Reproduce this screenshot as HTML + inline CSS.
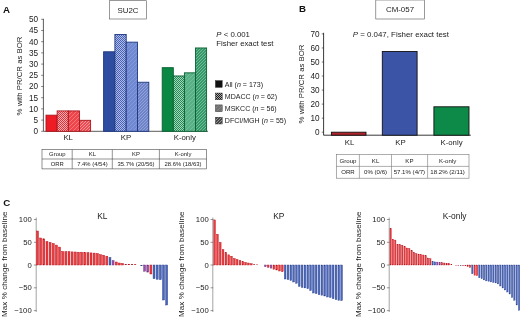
<!DOCTYPE html>
<html lang="en"><head><meta charset="utf-8"><title>Figure</title>
<style>
html,body{margin:0;padding:0;background:#fff;}
body{width:520px;height:319px;overflow:hidden;}
svg{display:block;}
text{font-family:"Liberation Sans",Arial,Helvetica,sans-serif;fill:#222;}
.b{font-weight:bold;fill:#111;}
.i{font-style:italic;}
</style></head><body>
<svg width="520" height="319" viewBox="0 0 520 319">
<defs>
<pattern id="r2" width="2" height="2" patternUnits="userSpaceOnUse"><rect width="2" height="2" fill="#f8b4b4"/><rect width="1" height="1" fill="#e62e38"/><rect x="1" y="1" width="1" height="1" fill="#e62e38"/></pattern><pattern id="r3" width="4" height="4" patternUnits="userSpaceOnUse"><rect width="4" height="4" fill="#ee444c"/><path d="M-1,1 L1,-1 M0,4 L4,0 M3,5 L5,3" stroke="#f88c8c" stroke-width="0.7"/></pattern><pattern id="r4" width="3" height="3" patternUnits="userSpaceOnUse"><rect width="3" height="3" fill="#ee4c54"/><path d="M-1,1 L1,-1 M0,3 L3,0 M2,4 L4,2" stroke="#f8a8a8" stroke-width="0.8"/></pattern><pattern id="b2" width="2" height="2" patternUnits="userSpaceOnUse"><rect width="2" height="2" fill="#aebcea"/><rect width="1" height="1" fill="#4a62b4"/><rect x="1" y="1" width="1" height="1" fill="#4a62b4"/></pattern><pattern id="b3" width="4" height="4" patternUnits="userSpaceOnUse"><rect width="4" height="4" fill="#7189d2"/><path d="M-1,1 L1,-1 M0,4 L4,0 M3,5 L5,3" stroke="#8aa0de" stroke-width="0.7"/></pattern><pattern id="b4" width="3" height="3" patternUnits="userSpaceOnUse"><rect width="3" height="3" fill="#6e83c8"/><path d="M-1,1 L1,-1 M0,3 L3,0 M2,4 L4,2" stroke="#9aaae0" stroke-width="0.8"/></pattern><pattern id="g2" width="2" height="2" patternUnits="userSpaceOnUse"><rect width="2" height="2" fill="#a8d6be"/><rect width="1" height="1" fill="#1f8a52"/><rect x="1" y="1" width="1" height="1" fill="#1f8a52"/></pattern><pattern id="g3" width="4" height="4" patternUnits="userSpaceOnUse"><rect width="4" height="4" fill="#58b086"/><path d="M-1,1 L1,-1 M0,4 L4,0 M3,5 L5,3" stroke="#7cc4a2" stroke-width="0.7"/></pattern><pattern id="g4" width="3" height="3" patternUnits="userSpaceOnUse"><rect width="3" height="3" fill="#359868"/><path d="M-1,1 L1,-1 M0,3 L3,0 M2,4 L4,2" stroke="#80c6a6" stroke-width="0.8"/></pattern><pattern id="k2" width="2" height="2" patternUnits="userSpaceOnUse"><rect width="2" height="2" fill="#a8a8a8"/><rect width="1" height="1" fill="#1c1c1c"/><rect x="1" y="1" width="1" height="1" fill="#1c1c1c"/></pattern><pattern id="k3" width="4" height="4" patternUnits="userSpaceOnUse"><rect width="4" height="4" fill="#737373"/><path d="M-1,1 L1,-1 M0,4 L4,0 M3,5 L5,3" stroke="#8c8c8c" stroke-width="0.7"/></pattern><pattern id="k4" width="3" height="3" patternUnits="userSpaceOnUse"><rect width="3" height="3" fill="#444"/><path d="M-1,1 L1,-1 M0,3 L3,0 M2,4 L4,2" stroke="#b0b0b0" stroke-width="0.8"/></pattern></defs>
<rect width="520" height="319" fill="#fff"/>
<g id="panelA">
<text class="b" x="2.9" y="12.6" font-size="9.7">A</text>
<rect x="109.5" y="0.7" width="37" height="18.3" fill="#fff" stroke="#555" stroke-width="0.6"/>
<text x="128" y="12.6" font-size="7.9" text-anchor="middle">SU2C</text>
<path d="M43.4,18.8 V131.3 H208" fill="none" stroke="#333" stroke-width="0.8"/>
<path d="M41.199999999999996,131.3 H43.4" stroke="#333" stroke-width="0.6"/><text x="38" y="134.2" font-size="8.2" text-anchor="end">0</text>
<path d="M41.199999999999996,120.1 H43.4" stroke="#333" stroke-width="0.6"/><text x="38" y="123" font-size="8.2" text-anchor="end">5</text>
<path d="M41.199999999999996,108.9 H43.4" stroke="#333" stroke-width="0.6"/><text x="38" y="111.8" font-size="8.2" text-anchor="end">10</text>
<path d="M41.199999999999996,97.7 H43.4" stroke="#333" stroke-width="0.6"/><text x="38" y="100.6" font-size="8.2" text-anchor="end">15</text>
<path d="M41.199999999999996,86.5 H43.4" stroke="#333" stroke-width="0.6"/><text x="38" y="89.4" font-size="8.2" text-anchor="end">20</text>
<path d="M41.199999999999996,75.3 H43.4" stroke="#333" stroke-width="0.6"/><text x="38" y="78.2" font-size="8.2" text-anchor="end">25</text>
<path d="M41.199999999999996,64.1 H43.4" stroke="#333" stroke-width="0.6"/><text x="38" y="67" font-size="8.2" text-anchor="end">30</text>
<path d="M41.199999999999996,52.9 H43.4" stroke="#333" stroke-width="0.6"/><text x="38" y="55.8" font-size="8.2" text-anchor="end">35</text>
<path d="M41.199999999999996,41.7 H43.4" stroke="#333" stroke-width="0.6"/><text x="38" y="44.6" font-size="8.2" text-anchor="end">40</text>
<path d="M41.199999999999996,30.5 H43.4" stroke="#333" stroke-width="0.6"/><text x="38" y="33.4" font-size="8.2" text-anchor="end">45</text>
<path d="M41.199999999999996,19.3 H43.4" stroke="#333" stroke-width="0.6"/><text x="38" y="22.2" font-size="8.2" text-anchor="end">50</text>
<text transform="translate(21.8,76) rotate(-90)" font-size="7.8" text-anchor="middle">% with PR/CR as BOR</text>
<rect x="46" y="115.17" width="11.15" height="16.13" fill="#ee1c25" stroke="#a8161e" stroke-width="0.9"/>
<rect x="57.15" y="110.92" width="11.15" height="20.38" fill="url(#r2)" stroke="#a8161e" stroke-width="0.9"/>
<rect x="68.3" y="110.92" width="11.15" height="20.38" fill="url(#r3)" stroke="#a8161e" stroke-width="0.9"/>
<rect x="79.45" y="120.32" width="11.15" height="10.98" fill="url(#r4)" stroke="#a8161e" stroke-width="0.9"/>
<rect x="103.6" y="51.78" width="11.3" height="79.52" fill="#2e4da0" stroke="#1d3780" stroke-width="0.9"/>
<rect x="114.9" y="34.53" width="11.3" height="96.77" fill="url(#b2)" stroke="#1d3780" stroke-width="0.9"/>
<rect x="126.2" y="42.15" width="11.3" height="89.15" fill="url(#b3)" stroke="#1d3780" stroke-width="0.9"/>
<rect x="137.5" y="82.24" width="11.3" height="49.06" fill="url(#b4)" stroke="#1d3780" stroke-width="0.9"/>
<rect x="162.2" y="67.68" width="11.1" height="63.62" fill="#0a8743" stroke="#086030" stroke-width="0.9"/>
<rect x="173.3" y="75.97" width="11.1" height="55.33" fill="url(#g2)" stroke="#086030" stroke-width="0.9"/>
<rect x="184.4" y="72.84" width="11.1" height="58.46" fill="url(#g3)" stroke="#086030" stroke-width="0.9"/>
<rect x="195.5" y="47.97" width="11.1" height="83.33" fill="url(#g4)" stroke="#086030" stroke-width="0.9"/>
<text x="68.2" y="140.2" font-size="7.8" text-anchor="middle">KL</text>
<text x="126" y="140.2" font-size="7.8" text-anchor="middle">KP</text>
<text x="184.8" y="140.2" font-size="7.8" text-anchor="middle">K-only</text>
<text x="216.3" y="37.2" font-size="7.8"><tspan class="i">P</tspan> &lt; 0.001</text>
<text x="216.3" y="46.2" font-size="7.8">Fisher exact test</text>
<rect x="215.4" y="80.6" width="6.8" height="6.8" fill="#111" stroke="#222" stroke-width="0.4"/><text x="224.8" y="86.5" font-size="7.05">All (<tspan class="i">n</tspan> = 173)</text>
<rect x="215.4" y="93" width="6.8" height="6.8" fill="url(#k2)" stroke="#222" stroke-width="0.4"/><text x="224.8" y="98.9" font-size="7.05">MDACC (<tspan class="i">n</tspan> = 62)</text>
<rect x="215.4" y="104.9" width="6.8" height="6.8" fill="url(#k3)" stroke="#222" stroke-width="0.4"/><text x="224.8" y="110.8" font-size="7.05">MSKCC (<tspan class="i">n</tspan> = 56)</text>
<rect x="215.4" y="117.2" width="6.8" height="6.8" fill="url(#k4)" stroke="#222" stroke-width="0.4"/><text x="224.8" y="123.1" font-size="7.05">DFCI/MGH (<tspan class="i">n</tspan> = 55)</text>
<rect x="42" y="149.6" width="164.6" height="19.3" fill="#fff" stroke="#4a4a4a" stroke-width="0.6"/><path d="M42,159.0 H206.6 M72.2,149.6 V168.9 M112.3,149.6 V168.9 M159.4,149.6 V168.9" stroke="#4a4a4a" stroke-width="0.6" fill="none"/>
<text x="57.3" y="156.4" font-size="5.9" text-anchor="middle">Group</text><text x="92.4" y="156.4" font-size="5.9" text-anchor="middle">KL</text><text x="136" y="156.4" font-size="5.9" text-anchor="middle">KP</text><text x="183" y="156.4" font-size="5.9" text-anchor="middle">K-only</text><text x="57.3" y="166.05" font-size="5.9" text-anchor="middle">ORR</text><text x="92.4" y="166.05" font-size="5.9" text-anchor="middle">7.4% (4/54)</text><text x="136" y="166.05" font-size="5.9" text-anchor="middle">35.7% (20/56)</text><text x="183" y="166.05" font-size="5.9" text-anchor="middle">28.6% (18/63)</text>
</g>
<g id="panelB">
<text class="b" x="298.9" y="12.2" font-size="9.7">B</text>
<rect x="375.8" y="0" width="48.6" height="19" fill="#fff" stroke="#555" stroke-width="0.6"/>
<text x="400" y="12.4" font-size="7.9" text-anchor="middle">CM-057</text>
<text x="352.7" y="36.6" font-size="7.9"><tspan class="i">P</tspan> = 0.047, Fisher exact test</text>
<path d="M323.6,32.8 V135.2 H470.8" fill="none" stroke="#222" stroke-width="0.9"/>
<path d="M321.8,132.2 H323.6" stroke="#222" stroke-width="0.6"/><text x="319.5" y="135.1" font-size="8.2" text-anchor="end">0</text>
<path d="M321.8,118.16 H323.6" stroke="#222" stroke-width="0.6"/><text x="319.5" y="121.06" font-size="8.2" text-anchor="end">10</text>
<path d="M321.8,104.12 H323.6" stroke="#222" stroke-width="0.6"/><text x="319.5" y="107.02" font-size="8.2" text-anchor="end">20</text>
<path d="M321.8,90.08 H323.6" stroke="#222" stroke-width="0.6"/><text x="319.5" y="92.98" font-size="8.2" text-anchor="end">30</text>
<path d="M321.8,76.04 H323.6" stroke="#222" stroke-width="0.6"/><text x="319.5" y="78.94" font-size="8.2" text-anchor="end">40</text>
<path d="M321.8,62 H323.6" stroke="#222" stroke-width="0.6"/><text x="319.5" y="64.9" font-size="8.2" text-anchor="end">50</text>
<path d="M321.8,47.96 H323.6" stroke="#222" stroke-width="0.6"/><text x="319.5" y="50.86" font-size="8.2" text-anchor="end">60</text>
<path d="M321.8,33.92 H323.6" stroke="#222" stroke-width="0.6"/><text x="319.5" y="36.82" font-size="8.2" text-anchor="end">70</text>
<text transform="translate(304.3,84) rotate(-90)" font-size="7.8" text-anchor="middle">% with PR/CR as BOR</text>
<rect x="331.4" y="132.2" width="34.6" height="3" fill="#b3232b" stroke="#111" stroke-width="0.9"/>
<rect x="382.3" y="51.47" width="34.8" height="83.73" fill="#3b54a5" stroke="#111" stroke-width="0.9"/>
<rect x="433.9" y="106.79" width="35.1" height="28.41" fill="#0e8a48" stroke="#111" stroke-width="0.9"/>
<text x="349.5" y="144.5" font-size="7.8" text-anchor="middle">KL</text>
<text x="400.4" y="144.5" font-size="7.8" text-anchor="middle">KP</text>
<text x="451.5" y="144.5" font-size="7.8" text-anchor="middle">K-only</text>
<rect x="336.3" y="154.6" width="132.7" height="23.6" fill="#fff" stroke="#777" stroke-width="0.6"/><path d="M336.3,166.4 H469 M359.4,154.6 V178.2 M391.5,154.6 V178.2 M427.6,154.6 V178.2" stroke="#777" stroke-width="0.6" fill="none"/>
<text x="348" y="162.6" font-size="6.1" text-anchor="middle">Group</text><text x="375.6" y="162.6" font-size="6.1" text-anchor="middle">KL</text><text x="409.4" y="162.6" font-size="6.1" text-anchor="middle">KP</text><text x="447.6" y="162.6" font-size="6.1" text-anchor="middle">K-only</text><text x="348" y="174.4" font-size="6.1" text-anchor="middle">ORR</text><text x="375.6" y="174.4" font-size="6.1" text-anchor="middle">0% (0/6)</text><text x="409.4" y="174.4" font-size="6.1" text-anchor="middle">57.1% (4/7)</text><text x="447.6" y="174.4" font-size="6.1" text-anchor="middle">18.2% (2/11)</text>
</g>
<g id="panelC">
<text class="b" x="3.2" y="205.6" font-size="9.7">C</text>
<path d="M36.2,217.5 V312" stroke="#9a9a9a" stroke-width="0.9" fill="none"/><path d="M33.900000000000006,219.5 H36.6" stroke="#555" stroke-width="0.6"/><text x="31.7" y="222" font-size="7.7" text-anchor="end">100</text><path d="M33.900000000000006,242.3 H36.6" stroke="#555" stroke-width="0.6"/><text x="31.7" y="244.8" font-size="7.7" text-anchor="end">50</text><path d="M33.900000000000006,265 H36.6" stroke="#555" stroke-width="0.6"/><text x="31.7" y="267.5" font-size="7.7" text-anchor="end">0</text><path d="M33.900000000000006,287.8 H36.6" stroke="#555" stroke-width="0.6"/><text x="31.7" y="290.3" font-size="7.7" text-anchor="end">−50</text><path d="M33.900000000000006,310.6 H36.6" stroke="#555" stroke-width="0.6"/><text x="31.7" y="313.1" font-size="7.7" text-anchor="end">−100</text><text transform="translate(6.6,264.3) rotate(-90)" font-size="8" text-anchor="middle" textLength="105.5" lengthAdjust="spacing">Max % change from baseline</text>
<rect x="36.52" y="231" width="1.95" height="34" fill="#ee3a3c" stroke="#b3121c" stroke-width="0.45"/><rect x="39.67" y="238" width="1.95" height="27" fill="#ee3a3c" stroke="#b3121c" stroke-width="0.45"/><rect x="42.82" y="238.8" width="1.95" height="26.2" fill="#ee3a3c" stroke="#b3121c" stroke-width="0.45"/><rect x="45.98" y="241.5" width="1.95" height="23.5" fill="#ee3a3c" stroke="#b3121c" stroke-width="0.45"/><rect x="49.12" y="242.4" width="1.95" height="22.6" fill="#ee3a3c" stroke="#b3121c" stroke-width="0.45"/><rect x="52.27" y="243.5" width="1.95" height="21.5" fill="#ee3a3c" stroke="#b3121c" stroke-width="0.45"/><rect x="55.42" y="245.1" width="1.95" height="19.9" fill="#ee3a3c" stroke="#b3121c" stroke-width="0.45"/><rect x="58.57" y="247.1" width="1.95" height="17.9" fill="#ee3a3c" stroke="#b3121c" stroke-width="0.45"/><rect x="61.73" y="251.4" width="1.95" height="13.6" fill="#ee3a3c" stroke="#b3121c" stroke-width="0.45"/><rect x="64.88" y="251.7" width="1.95" height="13.3" fill="#ee3a3c" stroke="#b3121c" stroke-width="0.45"/><rect x="68.03" y="251.7" width="1.95" height="13.3" fill="#ee3a3c" stroke="#b3121c" stroke-width="0.45"/><rect x="71.18" y="251.9" width="1.95" height="13.1" fill="#ee3a3c" stroke="#b3121c" stroke-width="0.45"/><rect x="74.33" y="252" width="1.95" height="13" fill="#ee3a3c" stroke="#b3121c" stroke-width="0.45"/><rect x="77.47" y="252.2" width="1.95" height="12.8" fill="#ee3a3c" stroke="#b3121c" stroke-width="0.45"/><rect x="80.62" y="252.2" width="1.95" height="12.8" fill="#ee3a3c" stroke="#b3121c" stroke-width="0.45"/><rect x="83.78" y="252.5" width="1.95" height="12.5" fill="#ee3a3c" stroke="#b3121c" stroke-width="0.45"/><rect x="86.93" y="252.7" width="1.95" height="12.3" fill="#ee3a3c" stroke="#b3121c" stroke-width="0.45"/><rect x="90.08" y="252.9" width="1.95" height="12.1" fill="#ee3a3c" stroke="#b3121c" stroke-width="0.45"/><rect x="93.22" y="253.1" width="1.95" height="11.9" fill="#ee3a3c" stroke="#b3121c" stroke-width="0.45"/><rect x="96.38" y="253.5" width="1.95" height="11.5" fill="#ee3a3c" stroke="#b3121c" stroke-width="0.45"/><rect x="99.53" y="254.7" width="1.95" height="10.3" fill="#ee3a3c" stroke="#b3121c" stroke-width="0.45"/><rect x="102.67" y="255.2" width="1.95" height="9.8" fill="#ee3a3c" stroke="#b3121c" stroke-width="0.45"/><rect x="105.83" y="256.2" width="1.95" height="8.8" fill="#ee3a3c" stroke="#b3121c" stroke-width="0.45"/><rect x="108.98" y="257.5" width="1.95" height="7.5" fill="#4a66bc" stroke="#283f8c" stroke-width="0.45"/><rect x="112.12" y="260.6" width="1.95" height="4.4" fill="#9a52a8" stroke="#6a3080" stroke-width="0.45"/><rect x="115.28" y="262" width="1.95" height="3" fill="#ee3a3c" stroke="#b3121c" stroke-width="0.45"/><rect x="118.42" y="263" width="1.95" height="2" fill="#ee3a3c" stroke="#b3121c" stroke-width="0.45"/><rect x="121.58" y="263.5" width="1.95" height="1.5" fill="#ee3a3c" stroke="#b3121c" stroke-width="0.45"/><rect x="124.73" y="264" width="1.95" height="1" fill="#b3121c"/><rect x="127.88" y="264" width="1.95" height="1" fill="#b3121c"/><rect x="131.03" y="264.1" width="1.95" height="0.9" fill="#b3121c"/><rect x="134.17" y="264.2" width="1.95" height="0.8" fill="#b3121c"/><rect x="140.47" y="265" width="1.95" height="1" fill="#283f8c"/><rect x="143.62" y="265.0" width="1.95" height="6.2" fill="#9a52a8" stroke="#6a3080" stroke-width="0.45"/><rect x="146.78" y="265.0" width="1.95" height="7.1" fill="#9a52a8" stroke="#6a3080" stroke-width="0.45"/><rect x="149.92" y="265.0" width="1.95" height="9" fill="#ee3a3c" stroke="#b3121c" stroke-width="0.45"/><rect x="153.08" y="265.0" width="1.95" height="13.7" fill="#4a66bc" stroke="#283f8c" stroke-width="0.45"/><rect x="156.22" y="265.0" width="1.95" height="14.3" fill="#4a66bc" stroke="#283f8c" stroke-width="0.45"/><rect x="159.38" y="265.0" width="1.95" height="14.7" fill="#4a66bc" stroke="#283f8c" stroke-width="0.45"/><rect x="162.53" y="265.0" width="1.95" height="35" fill="#4a66bc" stroke="#283f8c" stroke-width="0.45"/><rect x="165.68" y="265.0" width="1.95" height="40" fill="#4a66bc" stroke="#283f8c" stroke-width="0.45"/>
<text x="102.3" y="219.4" font-size="8.4" text-anchor="middle">KL</text>
<path d="M212.8,217.5 V312" stroke="#9a9a9a" stroke-width="0.9" fill="none"/><path d="M210.5,219.5 H213.20000000000002" stroke="#555" stroke-width="0.6"/><text x="208.7" y="222" font-size="7.7" text-anchor="end">100</text><path d="M210.5,242.3 H213.20000000000002" stroke="#555" stroke-width="0.6"/><text x="208.7" y="244.8" font-size="7.7" text-anchor="end">50</text><path d="M210.5,265 H213.20000000000002" stroke="#555" stroke-width="0.6"/><text x="208.7" y="267.5" font-size="7.7" text-anchor="end">0</text><path d="M210.5,287.8 H213.20000000000002" stroke="#555" stroke-width="0.6"/><text x="208.7" y="290.3" font-size="7.7" text-anchor="end">−50</text><path d="M210.5,310.6 H213.20000000000002" stroke="#555" stroke-width="0.6"/><text x="208.7" y="313.1" font-size="7.7" text-anchor="end">−100</text><text transform="translate(184.3,264.3) rotate(-90)" font-size="8" text-anchor="middle" textLength="105.5" lengthAdjust="spacing">Max % change from baseline</text>
<rect x="213.75" y="219.9" width="1.7" height="45.1" fill="#ee3a3c" stroke="#b3121c" stroke-width="0.4"/><rect x="216.57" y="234.2" width="1.7" height="30.8" fill="#ee3a3c" stroke="#b3121c" stroke-width="0.4"/><rect x="219.39" y="242.4" width="1.7" height="22.6" fill="#ee3a3c" stroke="#b3121c" stroke-width="0.4"/><rect x="222.22" y="249.6" width="1.7" height="15.4" fill="#ee3a3c" stroke="#b3121c" stroke-width="0.4"/><rect x="225.04" y="252.4" width="1.7" height="12.6" fill="#ee3a3c" stroke="#b3121c" stroke-width="0.4"/><rect x="227.86" y="254.8" width="1.7" height="10.2" fill="#ee3a3c" stroke="#b3121c" stroke-width="0.4"/><rect x="230.68" y="256.2" width="1.7" height="8.8" fill="#ee3a3c" stroke="#b3121c" stroke-width="0.4"/><rect x="233.5" y="258.4" width="1.7" height="6.6" fill="#ee3a3c" stroke="#b3121c" stroke-width="0.4"/><rect x="236.33" y="259.5" width="1.7" height="5.5" fill="#ee3a3c" stroke="#b3121c" stroke-width="0.4"/><rect x="239.15" y="260.5" width="1.7" height="4.5" fill="#ee3a3c" stroke="#b3121c" stroke-width="0.4"/><rect x="241.97" y="261.6" width="1.7" height="3.4" fill="#ee3a3c" stroke="#b3121c" stroke-width="0.4"/><rect x="244.79" y="262.4" width="1.7" height="2.6" fill="#ee3a3c" stroke="#b3121c" stroke-width="0.4"/><rect x="247.61" y="263" width="1.7" height="2" fill="#ee3a3c" stroke="#b3121c" stroke-width="0.4"/><rect x="250.44" y="263.7" width="1.7" height="1.3" fill="#ee3a3c" stroke="#b3121c" stroke-width="0.4"/><rect x="253.26" y="264.2" width="1.7" height="0.8" fill="#b3121c"/><rect x="256.08" y="264.5" width="1.7" height="0.5" fill="#b3121c"/><rect x="264.55" y="265.0" width="1.7" height="1.8" fill="#9a52a8" stroke="#6a3080" stroke-width="0.4"/><rect x="267.37" y="265.0" width="1.7" height="2.4" fill="#ee3a3c" stroke="#b3121c" stroke-width="0.4"/><rect x="270.19" y="265.0" width="1.7" height="3.1" fill="#9a52a8" stroke="#6a3080" stroke-width="0.4"/><rect x="273.01" y="265.0" width="1.7" height="4.2" fill="#ee3a3c" stroke="#b3121c" stroke-width="0.4"/><rect x="275.83" y="265.0" width="1.7" height="5" fill="#ee3a3c" stroke="#b3121c" stroke-width="0.4"/><rect x="278.66" y="265.0" width="1.7" height="6" fill="#ee3a3c" stroke="#b3121c" stroke-width="0.4"/><rect x="281.48" y="265.0" width="1.7" height="6.8" fill="#ee3a3c" stroke="#b3121c" stroke-width="0.4"/><rect x="284.3" y="265.0" width="1.7" height="14" fill="#4a66bc" stroke="#283f8c" stroke-width="0.4"/><rect x="287.12" y="265.0" width="1.7" height="14.6" fill="#4a66bc" stroke="#283f8c" stroke-width="0.4"/><rect x="289.94" y="265.0" width="1.7" height="15.5" fill="#4a66bc" stroke="#283f8c" stroke-width="0.4"/><rect x="292.77" y="265.0" width="1.7" height="17" fill="#4a66bc" stroke="#283f8c" stroke-width="0.4"/><rect x="295.59" y="265.0" width="1.7" height="18.3" fill="#4a66bc" stroke="#283f8c" stroke-width="0.4"/><rect x="298.41" y="265.0" width="1.7" height="21.4" fill="#4a66bc" stroke="#283f8c" stroke-width="0.4"/><rect x="301.23" y="265.0" width="1.7" height="22.5" fill="#4a66bc" stroke="#283f8c" stroke-width="0.4"/><rect x="304.05" y="265.0" width="1.7" height="22.9" fill="#4a66bc" stroke="#283f8c" stroke-width="0.4"/><rect x="306.88" y="265.0" width="1.7" height="23.8" fill="#4a66bc" stroke="#283f8c" stroke-width="0.4"/><rect x="309.7" y="265.0" width="1.7" height="25.6" fill="#4a66bc" stroke="#283f8c" stroke-width="0.4"/><rect x="312.52" y="265.0" width="1.7" height="28" fill="#4a66bc" stroke="#283f8c" stroke-width="0.4"/><rect x="315.34" y="265.0" width="1.7" height="28.7" fill="#4a66bc" stroke="#283f8c" stroke-width="0.4"/><rect x="318.16" y="265.0" width="1.7" height="29.8" fill="#4a66bc" stroke="#283f8c" stroke-width="0.4"/><rect x="320.99" y="265.0" width="1.7" height="30.2" fill="#4a66bc" stroke="#283f8c" stroke-width="0.4"/><rect x="323.81" y="265.0" width="1.7" height="31" fill="#4a66bc" stroke="#283f8c" stroke-width="0.4"/><rect x="326.63" y="265.0" width="1.7" height="32" fill="#4a66bc" stroke="#283f8c" stroke-width="0.4"/><rect x="329.45" y="265.0" width="1.7" height="32.5" fill="#4a66bc" stroke="#283f8c" stroke-width="0.4"/><rect x="332.27" y="265.0" width="1.7" height="33.8" fill="#4a66bc" stroke="#283f8c" stroke-width="0.4"/><rect x="335.1" y="265.0" width="1.7" height="34.7" fill="#4a66bc" stroke="#283f8c" stroke-width="0.4"/><rect x="337.92" y="265.0" width="1.7" height="35.3" fill="#4a66bc" stroke="#283f8c" stroke-width="0.4"/><rect x="340.74" y="265.0" width="1.7" height="35.6" fill="#4a66bc" stroke="#283f8c" stroke-width="0.4"/>
<text x="278.8" y="219.4" font-size="8.4" text-anchor="middle">KP</text>
<path d="M389.2,217.5 V312" stroke="#9a9a9a" stroke-width="0.9" fill="none"/><path d="M386.9,219.5 H389.59999999999997" stroke="#555" stroke-width="0.6"/><text x="385" y="222" font-size="7.7" text-anchor="end">100</text><path d="M386.9,242.3 H389.59999999999997" stroke="#555" stroke-width="0.6"/><text x="385" y="244.8" font-size="7.7" text-anchor="end">50</text><path d="M386.9,265 H389.59999999999997" stroke="#555" stroke-width="0.6"/><text x="385" y="267.5" font-size="7.7" text-anchor="end">0</text><path d="M386.9,287.8 H389.59999999999997" stroke="#555" stroke-width="0.6"/><text x="385" y="290.3" font-size="7.7" text-anchor="end">−50</text><path d="M386.9,310.6 H389.59999999999997" stroke="#555" stroke-width="0.6"/><text x="385" y="313.1" font-size="7.7" text-anchor="end">−100</text><text transform="translate(360.8,264.3) rotate(-90)" font-size="8" text-anchor="middle" textLength="105.5" lengthAdjust="spacing">Max % change from baseline</text>
<rect x="389.93" y="228.7" width="1.35" height="36.3" fill="#ee3a3c" stroke="#b3121c" stroke-width="0.35"/><rect x="392.26" y="239.2" width="1.35" height="25.8" fill="#ee3a3c" stroke="#b3121c" stroke-width="0.35"/><rect x="394.6" y="240.1" width="1.35" height="24.9" fill="#ee3a3c" stroke="#b3121c" stroke-width="0.35"/><rect x="396.93" y="244.3" width="1.35" height="20.7" fill="#ee3a3c" stroke="#b3121c" stroke-width="0.35"/><rect x="399.27" y="244.7" width="1.35" height="20.3" fill="#ee3a3c" stroke="#b3121c" stroke-width="0.35"/><rect x="401.61" y="245.2" width="1.35" height="19.8" fill="#ee3a3c" stroke="#b3121c" stroke-width="0.35"/><rect x="403.94" y="246.7" width="1.35" height="18.3" fill="#ee3a3c" stroke="#b3121c" stroke-width="0.35"/><rect x="406.28" y="248" width="1.35" height="17" fill="#ee3a3c" stroke="#b3121c" stroke-width="0.35"/><rect x="408.61" y="248.6" width="1.35" height="16.4" fill="#ee3a3c" stroke="#b3121c" stroke-width="0.35"/><rect x="410.95" y="250.5" width="1.35" height="14.5" fill="#ee3a3c" stroke="#b3121c" stroke-width="0.35"/><rect x="413.29" y="252.4" width="1.35" height="12.6" fill="#ee3a3c" stroke="#b3121c" stroke-width="0.35"/><rect x="415.62" y="253.7" width="1.35" height="11.3" fill="#ee3a3c" stroke="#b3121c" stroke-width="0.35"/><rect x="417.96" y="254.1" width="1.35" height="10.9" fill="#ee3a3c" stroke="#b3121c" stroke-width="0.35"/><rect x="420.29" y="254.6" width="1.35" height="10.4" fill="#ee3a3c" stroke="#b3121c" stroke-width="0.35"/><rect x="422.63" y="255" width="1.35" height="10" fill="#ee3a3c" stroke="#b3121c" stroke-width="0.35"/><rect x="424.97" y="255.6" width="1.35" height="9.4" fill="#ee3a3c" stroke="#b3121c" stroke-width="0.35"/><rect x="427.3" y="258" width="1.35" height="7" fill="#ee3a3c" stroke="#b3121c" stroke-width="0.35"/><rect x="429.64" y="258.8" width="1.35" height="6.2" fill="#ee3a3c" stroke="#b3121c" stroke-width="0.35"/><rect x="431.97" y="261.7" width="1.35" height="3.3" fill="#4a66bc" stroke="#283f8c" stroke-width="0.35"/><rect x="434.31" y="261.9" width="1.35" height="3.1" fill="#4a66bc" stroke="#283f8c" stroke-width="0.35"/><rect x="436.65" y="262.1" width="1.35" height="2.9" fill="#9a52a8" stroke="#6a3080" stroke-width="0.35"/><rect x="438.98" y="262.4" width="1.35" height="2.6" fill="#9a52a8" stroke="#6a3080" stroke-width="0.35"/><rect x="441.32" y="262.7" width="1.35" height="2.3" fill="#ee3a3c" stroke="#b3121c" stroke-width="0.35"/><rect x="443.65" y="263" width="1.35" height="2" fill="#ee3a3c" stroke="#b3121c" stroke-width="0.35"/><rect x="445.99" y="263.3" width="1.35" height="1.7" fill="#ee3a3c" stroke="#b3121c" stroke-width="0.35"/><rect x="448.32" y="263.6" width="1.35" height="1.4" fill="#ee3a3c" stroke="#b3121c" stroke-width="0.35"/><rect x="450.66" y="264" width="1.35" height="1" fill="#b3121c"/><rect x="455.33" y="265" width="1.35" height="0.5" fill="#b3121c"/><rect x="457.67" y="265" width="1.35" height="0.6" fill="#b3121c"/><rect x="460" y="265" width="1.35" height="0.7" fill="#283f8c"/><rect x="462.34" y="265" width="1.35" height="0.8" fill="#b3121c"/><rect x="464.68" y="265" width="1.35" height="1" fill="#b3121c"/><rect x="467.01" y="265.0" width="1.35" height="1.6" fill="#ee3a3c" stroke="#b3121c" stroke-width="0.35"/><rect x="469.35" y="265.0" width="1.35" height="2.6" fill="#ee3a3c" stroke="#b3121c" stroke-width="0.35"/><rect x="471.69" y="265.0" width="1.35" height="8.8" fill="#4a66bc" stroke="#283f8c" stroke-width="0.35"/><rect x="474.02" y="265.0" width="1.35" height="10.2" fill="#ee3a3c" stroke="#b3121c" stroke-width="0.35"/><rect x="476.36" y="265.0" width="1.35" height="10.8" fill="#ee3a3c" stroke="#b3121c" stroke-width="0.35"/><rect x="478.69" y="265.0" width="1.35" height="12.8" fill="#4a66bc" stroke="#283f8c" stroke-width="0.35"/><rect x="481.03" y="265.0" width="1.35" height="13.8" fill="#4a66bc" stroke="#283f8c" stroke-width="0.35"/><rect x="483.37" y="265.0" width="1.35" height="14.9" fill="#4a66bc" stroke="#283f8c" stroke-width="0.35"/><rect x="485.7" y="265.0" width="1.35" height="15.9" fill="#4a66bc" stroke="#283f8c" stroke-width="0.35"/><rect x="488.04" y="265.0" width="1.35" height="16.3" fill="#4a66bc" stroke="#283f8c" stroke-width="0.35"/><rect x="490.37" y="265.0" width="1.35" height="16.9" fill="#4a66bc" stroke="#283f8c" stroke-width="0.35"/><rect x="492.71" y="265.0" width="1.35" height="17.5" fill="#4a66bc" stroke="#283f8c" stroke-width="0.35"/><rect x="495.05" y="265.0" width="1.35" height="17.9" fill="#4a66bc" stroke="#283f8c" stroke-width="0.35"/><rect x="497.38" y="265.0" width="1.35" height="18.9" fill="#4a66bc" stroke="#283f8c" stroke-width="0.35"/><rect x="499.72" y="265.0" width="1.35" height="21" fill="#4a66bc" stroke="#283f8c" stroke-width="0.35"/><rect x="502.05" y="265.0" width="1.35" height="23" fill="#4a66bc" stroke="#283f8c" stroke-width="0.35"/><rect x="504.39" y="265.0" width="1.35" height="25" fill="#4a66bc" stroke="#283f8c" stroke-width="0.35"/><rect x="506.73" y="265.0" width="1.35" height="27" fill="#4a66bc" stroke="#283f8c" stroke-width="0.35"/><rect x="509.06" y="265.0" width="1.35" height="29" fill="#4a66bc" stroke="#283f8c" stroke-width="0.35"/><rect x="511.4" y="265.0" width="1.35" height="32.6" fill="#4a66bc" stroke="#283f8c" stroke-width="0.35"/><rect x="513.73" y="265.0" width="1.35" height="35.2" fill="#4a66bc" stroke="#283f8c" stroke-width="0.35"/><rect x="516.07" y="265.0" width="1.35" height="40" fill="#4a66bc" stroke="#283f8c" stroke-width="0.35"/><rect x="518.41" y="265.0" width="1.35" height="45.4" fill="#4a66bc" stroke="#283f8c" stroke-width="0.35"/>
<text x="454.6" y="219.3" font-size="8.4" text-anchor="middle">K-only</text>
</g>
</svg>
</body></html>
